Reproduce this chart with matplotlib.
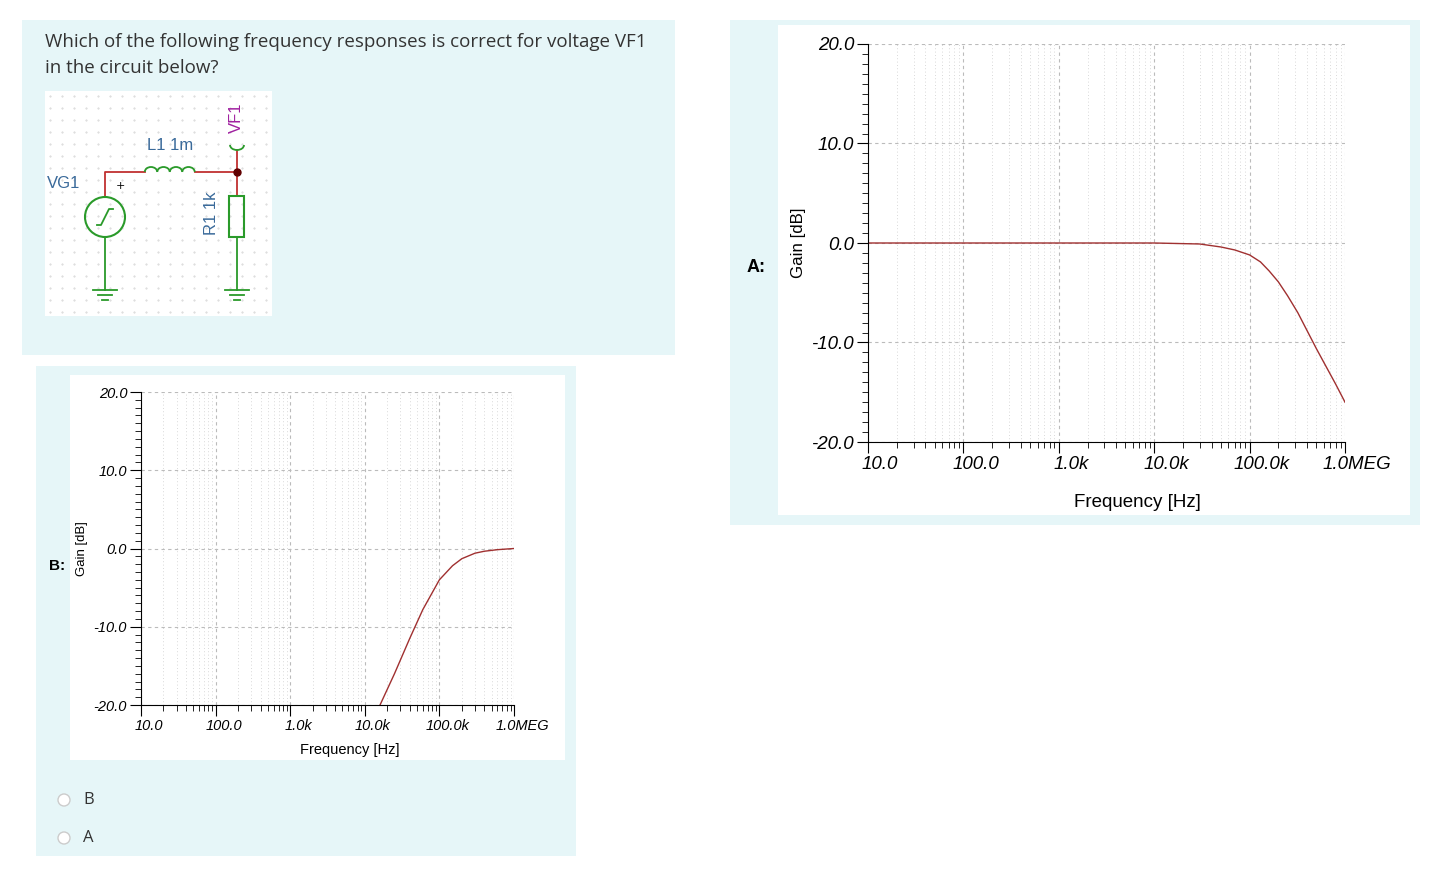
import matplotlib
matplotlib.use("Agg")
import matplotlib.pyplot as plt
from matplotlib.patches import Rectangle, Circle, Arc
from matplotlib.ticker import FixedLocator, LogLocator, NullFormatter
import matplotlib.transforms as mtrans

freq_a = [10, 1000, 10000, 30000, 50000, 70000, 100000, 130000, 160000, 200000, 250000, 320000, 400000, 500000, 600000, 800000, 1000000]
gain_a = [0, 0, 0, -0.1, -0.4, -0.7, -1.2, -1.9, -2.8, -3.9, -5.3, -7.0, -8.8, -10.6, -12.0, -14.2, -16.0]
freq_b = [16000, 25000, 40000, 60000, 100000, 150000, 200000, 300000, 400000, 600000, 1000000]
gain_b = [-20, -16, -11.5, -7.8, -4.0, -2.2, -1.3, -0.6, -0.35, -0.15, 0]
xticks = [10, 100, 1000, 10000, 100000, 1000000]
xlabels = ["10.0", "100.0", "1.0k", "10.0k", "100.0k", "1.0MEG"]
yticks = [-20, -10, 0, 10, 20]
ylabels = ["-20.0", "-10.0", "0.0", "10.0", "20.0"]

W, H = 1430, 872
fig = plt.figure(figsize=(W/100, H/100), dpi=100)
ov = fig.add_axes([0, 0, 1, 1], zorder=0)
ov.set_xlim(0, W); ov.set_ylim(H, 0); ov.axis("off")
CY = "#e6f6f8"
def rect(x0, y0, x1, y1, fc, ec="none", lw=0, z=0):
    ov.add_patch(Rectangle((x0, y0), x1-x0, y1-y0, fc=fc, ec=ec, lw=lw, zorder=z))
rect(22, 20, 675, 355, CY)
rect(730, 20, 1420, 525, CY)
rect(36, 366, 576, 856, CY)
rect(778, 25, 1410, 515, "white")
rect(70, 375, 565, 760, "white")
rect(45, 91, 272, 316, "white")

ov.text(45, 42, "Which of the following frequency responses is correct for voltage VF1",
        fontsize=13.5, family="Open Sans", va="center", color="#333333")
ov.text(45, 68, "in the circuit below?", fontsize=13.5, family="Open Sans", va="center", color="#333333")

# circuit
for gx in range(50, 272, 12):
    for gy in range(96, 316, 12):
        ov.plot(gx, gy, ".", ms=0.8, color="#cccccc", zorder=1)
R = "#c03030"; G = "#2a9a2a"
ov.plot([105, 105, 145], [197, 172, 172], color=R, lw=1.3, zorder=2)
ov.plot([195, 237, 237], [172, 172, 196], color=R, lw=1.3, zorder=2)
ov.plot([237, 237], [172, 150], color=R, lw=1.3, zorder=2)
for i in range(4):
    ov.add_patch(Arc((151+i*12.5, 172), 12.5, 10, theta1=180, theta2=360, color=G, lw=1.3, zorder=3))
ov.add_patch(Circle((105, 217), 20, fill=False, ec=G, lw=1.5, zorder=3))
ov.plot([97, 101, 109, 113], [225, 225, 209, 209], color=G, lw=1.3, zorder=3)
ov.plot([105, 105], [237, 290], color=G, lw=1.3, zorder=2)
ov.plot([237, 237], [237, 290], color=G, lw=1.3, zorder=2)
ov.add_patch(Rectangle((229, 196), 15, 41, fill=False, ec=G, lw=1.5, zorder=3))
for x in (105, 237):
    ov.plot([x-12, x+12], [290, 290], color=G, lw=1.3)
    ov.plot([x-7, x+7], [295, 295], color=G, lw=1.3)
    ov.plot([x-3, x+3], [300, 300], color=G, lw=1.3)
ov.plot(237, 172, "o", ms=5, color="#600000", zorder=4)
ov.add_patch(Arc((237, 145), 14, 10, theta1=0, theta2=180, color=G, lw=1.3, zorder=3))
ov.text(116, 189, "+", fontsize=8, color="black")
ov.text(47, 184, "VG1", fontsize=12, color="#3a6a9a", va="center", family="Liberation Sans")
ov.text(170, 145, "L1 1m", fontsize=12, color="#3a6a9a", ha="center", va="center", family="Liberation Sans")
ov.text(212, 213, "R1 1k", fontsize=12, color="#3a6a9a", ha="center", va="center", rotation=90, family="Liberation Sans")
ov.text(236, 118, "VF1", fontsize=12, color="#a020a0", ha="center", va="center", rotation=90, family="Liberation Sans")

ov.text(756, 267, "A:", fontsize=13, weight="bold", ha="center", va="center", family="Liberation Sans")
ov.text(57, 566, "B:", fontsize=11, weight="bold", ha="center", va="center", family="Liberation Sans")
for y, t in ((800, "B"), (838, "A")):
    ov.add_patch(Circle((64, y), 6, fc="white", ec="#cccccc", lw=1, zorder=3))
    ov.text(83, y, t, fontsize=12, va="center", family="Open Sans", color="#333333")

def chart(x0, y0, x1, y1, f, g, fs, lab, shift):
    ax = fig.add_axes([x0/W, 1-y1/H, (x1-x0)/W, (y1-y0)/H], zorder=2)
    ax.set_xscale("log")
    ax.set_xlim(10, 1e6); ax.set_ylim(-20, 20)
    ax.plot(f, g, color="#a03030", lw=1)
    ax.set_xticks(xticks); ax.set_xticklabels(xlabels)
    ax.xaxis.set_minor_locator(LogLocator(base=10, subs=range(2, 10)))
    ax.xaxis.set_minor_formatter(NullFormatter())
    ax.set_yticks(yticks); ax.set_yticklabels(ylabels)
    ax.yaxis.set_minor_locator(FixedLocator([v for v in range(-20, 21)]))
    ax.grid(True, which="major", ls=(0, (3, 3)), color="#bbbbbb", lw=0.8)
    ax.grid(True, which="minor", axis="x", ls=(0, (1, 3)), color="#cccccc", lw=0.6)
    for s in ("top", "right"):
        ax.spines[s].set_visible(False)
    ax.tick_params(which="major", direction="out", length=8, labelsize=fs, pad=2)
    ax.tick_params(which="minor", direction="out", length=4)
    off = mtrans.ScaledTranslation(shift/100, 0, fig.dpi_scale_trans)
    for t in ax.get_xticklabels():
        t.set_transform(t.get_transform() + off)
    for t in ax.get_xticklabels() + ax.get_yticklabels():
        t.set_fontstyle("italic"); t.set_family("Liberation Sans")
    ax.set_xlabel("Frequency [Hz]", fontsize=fs, family="Liberation Sans", labelpad=lab)
    ax.set_ylabel("Gain [dB]", fontsize=fs*0.9, family="Liberation Sans")
    return ax

axA = chart(868, 44, 1345, 442, freq_a, gain_a, 13.5, 6, 12)
axA.xaxis.set_label_coords(0.565, -0.13)
axB = chart(141, 392, 514, 705, freq_b, gain_b, 10.5, 5, 8)
axB.xaxis.set_label_coords(0.56, -0.12)
fig.savefig("out.png", dpi=100)
